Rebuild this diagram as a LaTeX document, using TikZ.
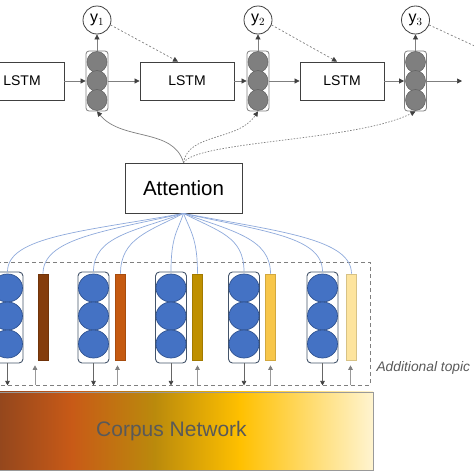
\documentclass[tikz,border=0pt]{standalone}
\usepackage{fontspec}
\setmainfont{Liberation Sans}
\usetikzlibrary{arrows.meta,calc}

\definecolor{grigio}{HTML}{7F7F7F}
\definecolor{scuro}{HTML}{404040}
\definecolor{testo}{HTML}{595959}
\definecolor{blu}{HTML}{4472C4}
\definecolor{blubordo}{HTML}{2F528F}
\definecolor{pila}{HTML}{44546A}
\definecolor{ventaglio}{HTML}{8EA9DB}
\definecolor{marrone}{HTML}{843C0C}
\definecolor{arancio}{HTML}{C55A11}
\definecolor{ocra}{HTML}{BF9000}
\definecolor{oro}{HTML}{F7C64A}
\definecolor{paglia}{HTML}{FDE49E}
\definecolor{sfA}{HTML}{7F3F1F}
\definecolor{sfB}{HTML}{C85A17}
\definecolor{sfC}{HTML}{BA8A0C}
\definecolor{sfD}{HTML}{FFC000}
\definecolor{sfE}{HTML}{FFF4D0}

\begin{document}
\begin{tikzpicture}[x=1pt, y=-1pt,
    freccia/.style={-{Triangle[length=5pt,width=5pt,color=scuro]}, draw=grigio, line width=0.7pt},
    tratteggio/.style={freccia, dash pattern=on 2pt off 2pt},
    puntini/.style={freccia, dash pattern=on 1.5pt off 1.5pt},
    lstmbox/.style={draw=scuro, line width=0.8pt, fill=white, minimum width=84pt, minimum height=38pt, font=\fontsize{14}{16}\selectfont},
    pilagrigia/.style={draw=grigio, rounded corners=3pt, line width=0.8pt, fill=white, minimum width=22pt, minimum height=60pt},
    pallino/.style={draw=grigio!75!black, fill=grigio, line width=0.5pt},
    uscita/.style={circle, draw=scuro, line width=0.8pt, fill=white, minimum size=28pt, inner sep=0pt, font=\fontsize{16}{18}\selectfont},
    pilablu/.style={draw=pila, rounded corners=4pt, line width=0.9pt, minimum width=31pt, minimum height=91pt},
    pallinoblu/.style={draw=blubordo, fill=blu, line width=0.7pt},
    barra/.style={draw=#1!85!black, fill=#1, minimum width=10pt, minimum height=86pt, inner sep=0pt, line width=0.6pt},
    fan/.style={draw=ventaglio, line width=0.7pt},
    giu/.style={-{Triangle[length=4.5pt,width=4.5pt,color=scuro]}, draw=scuro!80, line width=0.6pt},
    su/.style={-{Triangle[length=4.5pt,width=4.5pt,color=grigio]}, draw=grigio!80, line width=0.6pt}]

    \useasboundingbox (0,0) rectangle (474,474);
    \clip (0,0) rectangle (474,474);

    % Sfondo sfumato del Corpus Network
    \shade[left color=sfA, right color=sfB] (-30,391) rectangle (72,469);
    \shade[left color=sfB, right color=sfC] (71.5,391) rectangle (155,469);
    \shade[left color=sfC, right color=sfD] (154.5,391) rectangle (240,469);
    \shade[left color=sfD, right color=sfE] (239.5,391) rectangle (373,469);
    \node[draw=grigio!80, line width=0.8pt, minimum width=403pt, minimum height=78pt, text=testo,
        font=\fontsize{21}{25}\selectfont] (corpus) at (171.5,431) {Corpus Network};

    % Riquadro tratteggiato dei topic
    \node[draw=grigio, dash pattern=on 4pt off 3pt, line width=0.9pt, minimum width=390pt,
        minimum height=123pt, inner sep=0pt] (area) at (175,323.5) {};
    \node[anchor=west, text=testo, font=\itshape\fontsize{13.8}{16}\selectfont] (etichetta) at (373,368) {Additional topic};

    % Pile blu e barre dei topic
    \foreach \n/\x in {sA/7.5, sB/93.5, sC/171, sD/244, sE/322.5} {
        \node[pilablu] (\n) at (\x,317.5) {};
        \foreach \yy in {288,316,344}
            \filldraw[pallinoblu] (\x,\yy) ellipse (15pt and 14pt);
    }
    \foreach \n/\x/\c in {bA/43/marrone, bB/120.5/arancio, bC/197.5/ocra, bD/270.5/oro, bE/351.5/paglia}
        \node[barra=\c] (\n) at (\x,317) {};

    % Frecce verso e dal Corpus Network
    \foreach \n in {sA,sB,sC,sD,sE}
        \draw[giu] (\n.south) -- (\n.south |- area.south);
    \foreach \n/\o in {bA/-8, bB/-3, bC/0, bD/0, bE/-1}
        \draw[su] ($(\n.south |- area.south)+(\o,0)$) -- ($(\n.south)+(\o,5)$);

    % Attention e ventaglio di linee
    \node[draw=scuro, line width=0.8pt, fill=white, minimum width=117pt, minimum height=50pt,
        font=\fontsize{20.5}{24}\selectfont] (att) at (183.5,188) {Attention};
    \foreach \n/\d in {sA/-100, bA/-80, sB/-50, bB/-35, sC/-6, bC/7, sD/35, bD/50, sE/80, bE/95}
        \draw[fan] (att.south) .. controls +(\d,18) and +(0,-35) .. (\n.north);

    % Riga superiore: LSTM, pile grigie e uscite
    \node[lstmbox] (lstmA) at (22,81) {LSTM};
    \node[lstmbox, minimum width=94pt] (lstmB) at (187,81) {LSTM};
    \node[lstmbox] (lstmC) at (342,81) {LSTM};
    \foreach \n/\x in {stA/97, stB/258, stC/415.5} {
        \node[pilagrigia] (\n) at (\x,81) {};
        \foreach \yy in {62,81,100}
            \filldraw[pallino] (\x,\yy) ellipse (10pt and 10.5pt);
    }
    \node[uscita] (yA) at (97,20) {$\mathrm{y}_1$};
    \node[uscita] (yB) at (258,20) {$\mathrm{y}_2$};
    \node[uscita] (yC) at (415.5,20) {$\mathrm{y}_3$};
    \coordinate (fine) at (462,81);
    \coordinate (oltre) at (492,54);

    \draw[freccia] (lstmA.east) -- (stA.west);
    \draw[freccia] (stA.east) -- (lstmB.west);
    \draw[freccia] (lstmB.east) -- (stB.west);
    \draw[freccia] (stB.east) -- (lstmC.west);
    \draw[freccia] (lstmC.east) -- (stC.west);
    \draw[freccia] (stC.east) -- (fine);
    \foreach \s/\u in {stA/yA, stB/yB, stC/yC}
        \draw[freccia] (\s.north) -- (\u.south);

    % Uscite verso il passo successivo
    \draw[tratteggio] (yA.-20) -- ($(lstmB.north)+(-9,0)$);
    \draw[tratteggio] (yB.-20) -- ($(lstmC.north)+(-5,0)$);
    \draw[tratteggio, -] (yC.-20) -- (oltre);

    % Contesto dall'Attention alle pile
    \draw[freccia] (att.north) .. controls +(-10,-35) and +(25,30) .. (stA.south);
    \draw[puntini] (att.north) .. controls +(5,-30) and +(-20,30) .. (stB.south);
    \draw[puntini] (att.north) .. controls +(15,-22) and +(-60,30) .. (stC.south);
\end{tikzpicture}
\end{document}
